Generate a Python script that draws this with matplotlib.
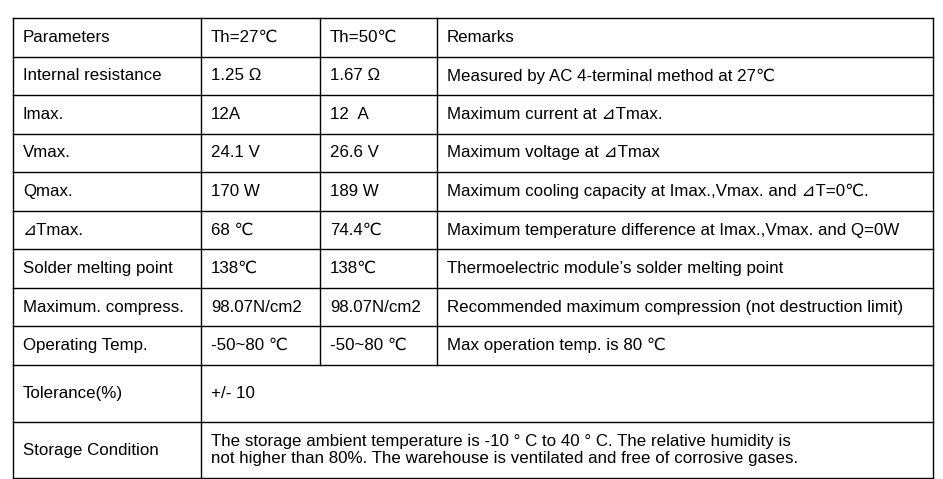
import matplotlib
matplotlib.use("Agg")
import matplotlib.pyplot as plt

plt.rcParams['font.family'] = ['Liberation Sans', 'DejaVu Sans', 'Noto Sans CJK SC']

header = ["Parameters", "Th=27℃", "Th=50℃", "Remarks"]
params = ["Internal resistance", "Imax.", "Vmax.", "Qmax.", "⊿Tmax.", "Solder melting point",
          "Maximum. compress.", "Operating Temp."]
th27 = ["1.25 Ω", "12A", "24.1 V", "170 W", "68 ℃", "138℃", "98.07N/cm2", "-50~80 ℃"]
th50 = ["1.67 Ω", "12  A", "26.6 V", "189 W", "74.4℃", "138℃", "98.07N/cm2", "-50~80 ℃"]
remarks = ["Measured by AC 4-terminal method at 27℃",
           "Maximum current at ⊿Tmax.",
           "Maximum voltage at ⊿Tmax",
           "Maximum cooling capacity at Imax.,Vmax. and ⊿T=0℃.",
           "Maximum temperature difference at Imax.,Vmax. and Q=0W",
           "Thermoelectric module’s solder melting point",
           "Recommended maximum compression (not destruction limit)",
           "Max operation temp. is 80 ℃"]
tol_label, tol_value = "Tolerance(%)", "+/- 10"
sto_label = "Storage Condition"
sto_value = ("The storage ambient temperature is -10 ° C to 40 ° C. The relative humidity is\n"
             "not higher than 80%. The warehouse is ventilated and free of corrosive gases.")

W, H = 943, 479
fig = plt.figure(figsize=(W/100, H/100), dpi=100)
ax = fig.add_axes([0, 0, 1, 1])
ax.set_xlim(0, W); ax.set_ylim(H, 0); ax.axis('off')

xl, xr = 13, 933
cols = [xl, 201, 320, 437, xr]
rows = [18 + i*38.55 for i in range(10)]
rows += [422, 478]
lw = 1.0
fs = 12.2
for y in rows:
    ax.plot([xl, xr], [y, y], color='black', lw=lw)
ax.plot([xl, xl], [rows[0], rows[-1]], color='black', lw=lw)
ax.plot([xr, xr], [rows[0], rows[-1]], color='black', lw=lw)
ax.plot([cols[1], cols[1]], [rows[0], rows[-1]], color='black', lw=lw)
for c in cols[2:4]:
    ax.plot([c, c], [rows[0], rows[9]], color='black', lw=lw)

pad = 10
def put(col, r, s):
    ax.text(cols[col] + pad, (rows[r] + rows[r+1]) / 2, s, fontsize=fs, va='center', ha='left')

for j, s in enumerate(header):
    put(j, 0, s)
for i in range(len(params)):
    put(0, i+1, params[i]); put(1, i+1, th27[i]); put(2, i+1, th50[i]); put(3, i+1, remarks[i])
put(0, 9, tol_label); put(1, 9, tol_value)
put(0, 10, sto_label)
ax.text(cols[1] + pad, (rows[10] + rows[11]) / 2, sto_value, fontsize=fs, va='center', ha='left',
        linespacing=1.1)

fig.savefig("out.png", dpi=100, facecolor='white')
